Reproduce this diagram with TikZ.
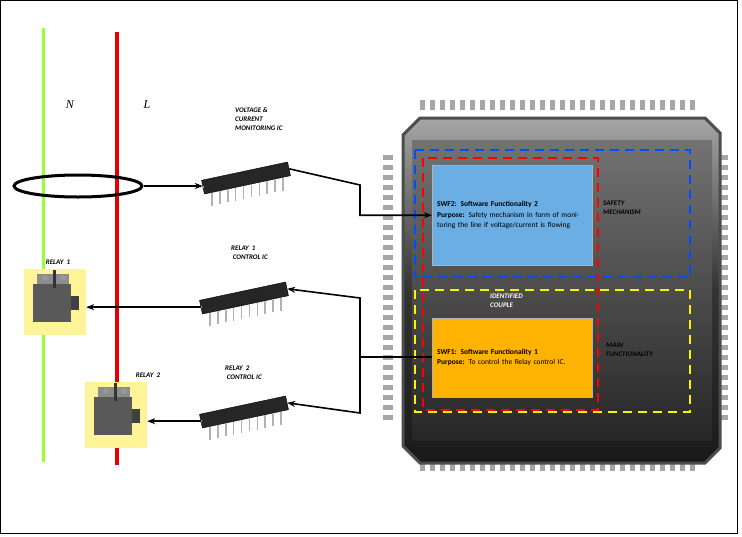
\documentclass[tikz,border=0pt]{standalone}
\usepackage{fontspec}
\setmainfont{Carlito}
\newfontfamily\serifnl{Liberation Serif}
\usetikzlibrary{calc,arrows.meta,shapes.geometric}
\begin{document}
\begin{tikzpicture}[x=1pt,y=1pt,
  lbl/.style={font=\fontsize{7}{9}\selectfont\bfseries\itshape,align=left,inner sep=0},
  dip/.style={fill=black!85,draw=black,minimum width=88,minimum height=14,rotate=12,inner sep=0},
  relay/.style={fill=yellow!90!orange!40,minimum width=62,minimum height=66,inner sep=0},
  conn/.style={line width=1.6pt,-{Stealth[length=8pt,width=6pt]}},
  wire/.style={line width=1.6pt},
  box/.style={text width=150,align=left,font=\fontsize{7.5}{10.5}\selectfont,inner sep=5,draw=black!30},
  dashbox/.style={line width=2.2pt,dash pattern=on 9pt off 6pt}]
\useasboundingbox (0,0) rectangle (742,-536);
\draw[black,line width=0.8pt] (0.5,-0.5) rectangle (737,-533);
% mains lines
\draw[line width=3pt,green!50!yellow!80] (43,-28) -- (43,-462);
\draw[line width=3.5pt,red!90!black] (117,-32) -- (117,-465);
\node[font=\serifnl\itshape\large] (N) at (70,-105) {N};
\node[font=\serifnl\itshape\large] (L) at (147,-105) {L};
% current sensor
\node[draw,line width=3pt,ellipse,minimum width=128,minimum height=22,inner sep=0] (ring) at (78,-186) {};
% big microcontroller
\foreach \i in {0,...,27}{
  \fill[gray!70] (420+\i*10,-100) rectangle ++(5,-10);
  \fill[gray!70] (420+\i*10,-461) rectangle ++(5,-10);}
\foreach \i in {0,...,26}{
  \fill[gray!70] (383,-155-\i*10) rectangle ++(10,-5);
  \fill[gray!70] (718,-155-\i*10) rectangle ++(10,-5);}
\draw[line width=3pt,gray!60!black,top color=gray!70,bottom color=black!90,middle color=gray!40!black]
  (420,-118) -- (705,-118) -- (720,-133) -- (720,-448) -- (705,-463) -- (420,-463) -- (403,-446) -- (403,-135) -- cycle;
\fill[top color=black!55,bottom color=black!85] (412,-140) rectangle (712,-440);
\node[box,fill=cyan!70!blue!60,minimum height=100,anchor=north west] (swf2) at (432,-165)
 {\textbf{SWF2: Software Functionality 2}\\\textbf{Purpose:} Safety mechanism in form of monitoring the line if voltage/current is flowing};
\node[box,fill=orange!60!yellow,minimum height=79,anchor=north west] (swf1) at (432,-318)
 {\textbf{SWF1: Software Functionality 1}\\\textbf{Purpose:} To control the Relay control IC.};
\draw[dashbox,blue!70!cyan] (415,-150) rectangle (690,-277);
\draw[dashbox,yellow] (415,-290) rectangle (690,-412);
\draw[dashbox,red] (423,-158) rectangle (598,-410);
\node[lbl,anchor=north west] (sm) at (603,-201) {SAFETY\\MECHANISM};
\node[lbl,anchor=north west,white] (ic) at (490,-294) {IDENTIFIED\\COUPLE};
\node[lbl,anchor=north west] (mf) at (606,-343) {MAIN\\FUNCTIONALITY};
% small ICs
\foreach \n/\x/\y in {c1/246/-178,c2/244/-298,c3/244/-412}{
  \node[dip] (\n) at (\x,\y) {};
  \foreach \k in {1,...,10}
    \draw[gray!60,line width=1.5pt] ($(\n.south west)!\k/11!(\n.south east)$) -- ++(0,-13);
  \fill[gray!60] (\n.west) circle (1.5);}
\node[lbl,anchor=north west] (t1) at (235,-107) {VOLTAGE \&\\CURRENT\\MONITORING IC};
\node[lbl,anchor=north west] (t2) at (231,-246) {RELAY\ \ 1\\\ CONTROL IC};
\node[lbl,anchor=north west] (t3) at (225,-366) {RELAY\ \ 2\\\ CONTROL IC};
% relays
\foreach \n/\x/\y in {r1/55/-302,r2/116/-415}{
  \node[relay] (\n) at (\x,\y) {};
  \fill[black!65] ($(\n)+(-22,-20)$) rectangle ($(\n)+(16,18)$);
  \fill[black!45] ($(\n)+(-18,18)$) rectangle ($(\n)+(14,28)$);
  \fill[black!80] ($(\n)+(-2,14)$) rectangle ($(\n)+(1,32)$);
  \fill[black!75] ($(\n)+(16,-8)$) rectangle ($(\n)+(24,6)$);
  \fill[black!40] ($(\n)+(-10,24)$) circle (3) ($(\n)+(8,24)$) circle (3);}
\node[lbl,anchor=south] (rl1) at (58,-265) {RELAY\ \ 1};
\node[lbl,anchor=south] (rl2) at (148,-378) {RELAY\ \ 2};
% connectors
\coordinate (j0) at (360,-185);
\coordinate (j1) at (360,-298);
\coordinate (j2) at (360,-413);
\coordinate (j3) at (360,-357);
\draw[conn] (ring.east) -- (c1.west |- ring.east);
\draw[conn] (c1.east) -- (j0) -- (j0 |- swf2.west) -- (swf2.west);
\draw[wire] (swf1.west |- j3) -- (j3);
\draw[conn] (j3) -- (j1) -- (c2.east);
\draw[conn] (j3) -- (j2) -- (c3.east);
\draw[conn] (c2.west) -- (r1.east |- c2.west);
\draw[conn] (c3.west) -- (r2.east |- c3.west);
\end{tikzpicture}
\end{document}
